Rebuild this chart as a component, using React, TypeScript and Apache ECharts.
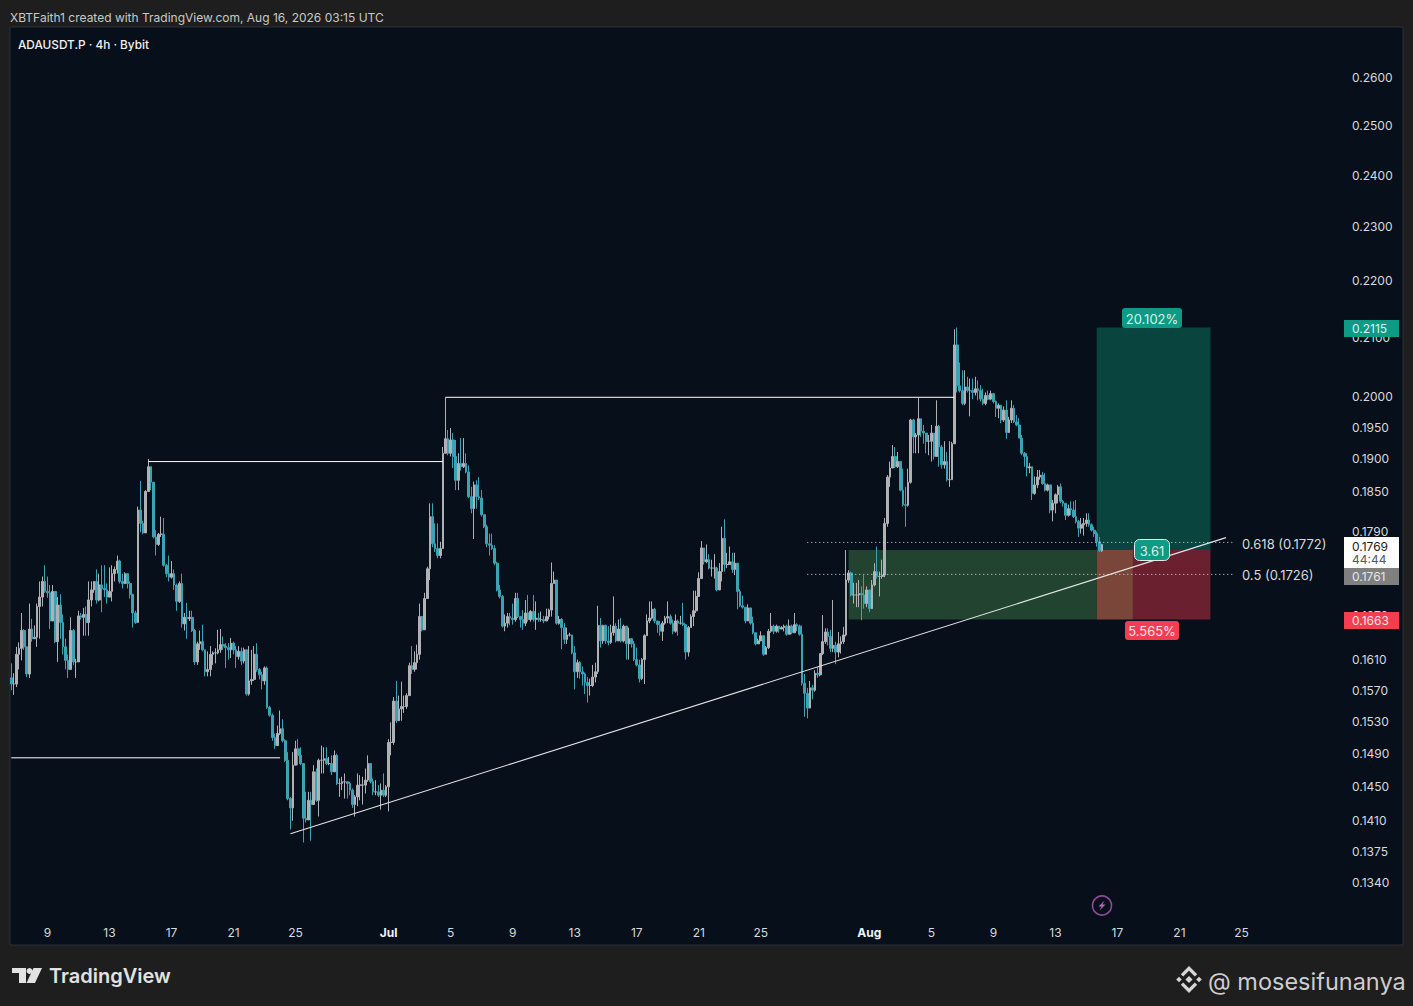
import React, { useEffect, useRef } from "react";
import * as echarts from "echarts";

const firstOpen = 1585;
const closes = [
  1577,1577,1616,1624,1648,1626,1590,1650,1637,1639,
  1681,1694,1716,1702,1700,1661,1702,1633,1683,1659,
  1626,1608,1596,1648,1606,1606,1668,1666,1670,1659,
  1690,1704,1716,1690,1711,1706,1704,1694,1702,1727,
  1733,1745,1716,1713,1727,1713,1698,1672,1659,1820,
  1800,1786,1848,1886,1862,1780,1769,1784,1784,1739,
  1727,1722,1727,1711,1688,1713,1657,1666,1664,1666,
  1648,1606,1630,1633,1622,1593,1596,1616,1618,1618,
  1622,1629,1627,1625,1622,1631,1622,1613,1620,1607,
  1622,1564,1581,1583,1616,1596,1589,1581,1598,1547,
  1537,1509,1499,1514,1520,1505,1481,1435,1424,1475,
  1495,1487,1477,1412,1410,1433,1428,1467,1433,1481,
  1481,1483,1477,1477,1467,1487,1453,1453,1455,1455,
  1453,1445,1428,1437,1451,1451,1451,1457,1477,1455,
  1443,1443,1439,1445,1439,1449,1503,1503,1555,1530,
  1545,1548,1548,1562,1601,1596,1605,1616,1667,1649,
  1692,1734,1810,1770,1763,1753,1763,1907,1930,1907,
  1928,1902,1865,1891,1886,1891,1878,1840,1822,1858,
  1840,1838,1813,1795,1770,1768,1763,1742,1704,1695,
  1654,1658,1667,1665,1663,1692,1667,1663,1658,1672,
  1663,1674,1663,1665,1663,1663,1661,1667,1676,1713,
  1718,1658,1663,1652,1636,1642,1642,1618,1593,1605,
  1593,1590,1579,1575,1575,1586,1593,1655,1634,1655,
  1634,1632,1645,1654,1634,1650,1634,1654,1630,1637,
  1630,1609,1602,1584,1609,1641,1661,1665,1677,1661,
  1656,1647,1658,1665,1667,1658,1647,1661,1658,1658,
  1656,1619,1652,1667,1675,1695,1720,1764,1744,1747,
  1735,1735,1735,1704,1730,1778,1740,1740,1744,1733,
  1742,1702,1682,1680,1661,1679,1658,1645,1630,1634,
  1641,1616,1625,1647,1654,1647,1654,1650,1652,1654,
  1643,1654,1645,1656,1654,1643,1578,1565,1546,1572,
  1569,1591,1589,1617,1633,1646,1640,1624,1628,1619,
  1630,1633,1642,1718,1728,1697,1697,1697,1699,1697,
  1685,1704,1678,1711,1730,1723,1723,1725,1800,1870,
  1884,1902,1886,1894,1850,1828,1827,1862,1960,1933,
  1936,1962,1942,1939,1926,1926,1939,1902,1950,1917,
  1889,1894,1866,1866,1922,2085,2016,2008,1987,2014,
  2008,2008,2005,2011,2008,1994,1987,2000,1994,2003,
  1990,1979,1984,1960,1976,1940,1960,1979,1957,1952,
  1931,1907,1902,1884,1886,1845,1858,1870,1873,1860,
  1850,1858,1820,1830,1843,1855,1833,1830,1812,1822,
  1820,1810,1803,1793,1798,1800,1805,1798,1790,1785,
  1773,1760,1769,
];
const highs = [
  1604,1591,1626,1632,1672,1650,1624,1685,1664,1655,
  1685,1716,1723,1739,1723,1711,1711,1702,1694,1698,
  1670,1637,1616,1666,1650,1610,1675,1672,1679,1681,
  1716,1716,1716,1733,1727,1739,1739,1713,1736,1739,
  1737,1753,1747,1727,1729,1727,1716,1698,1675,1825,
  1864,1804,1850,1898,1886,1860,1790,1786,1810,1808,
  1741,1753,1745,1733,1713,1716,1727,1672,1686,1675,
  1675,1650,1633,1648,1656,1622,1620,1627,1620,1624,
  1649,1650,1640,1631,1631,1638,1633,1627,1627,1625,
  1625,1620,1627,1622,1627,1631,1598,1593,1600,1600,
  1549,1539,1514,1524,1543,1532,1507,1491,1437,1491,
  1505,1507,1497,1477,1443,1443,1443,1475,1471,1483,
  1499,1497,1497,1485,1487,1493,1489,1459,1461,1465,
  1455,1455,1447,1439,1465,1463,1461,1471,1487,1477,
  1459,1457,1451,1453,1465,1451,1507,1528,1560,1581,
  1562,1580,1562,1565,1605,1627,1620,1629,1685,1668,
  1700,1737,1830,1830,1800,1800,1773,1917,1997,1944,
  1947,1939,1928,1907,1931,1931,1907,1888,1855,1863,
  1865,1870,1850,1813,1798,1785,1785,1768,1744,1711,
  1697,1670,1672,1672,1685,1700,1700,1668,1676,1690,
  1697,1676,1697,1688,1672,1674,1668,1678,1678,1743,
  1730,1716,1668,1665,1658,1652,1645,1642,1627,1609,
  1607,1600,1592,1586,1584,1602,1605,1682,1665,1656,
  1656,1654,1656,1695,1658,1663,1665,1656,1654,1652,
  1637,1634,1625,1609,1611,1643,1670,1688,1688,1679,
  1661,1661,1661,1668,1688,1670,1663,1670,1663,1668,
  1686,1656,1654,1670,1703,1703,1729,1774,1764,1769,
  1755,1747,1755,1737,1742,1795,1806,1757,1766,1757,
  1757,1742,1705,1696,1680,1684,1679,1667,1645,1637,
  1647,1641,1627,1650,1672,1656,1656,1654,1654,1656,
  1656,1663,1656,1672,1658,1656,1655,1590,1572,1581,
  1576,1595,1599,1617,1669,1651,1651,1649,1690,1633,
  1646,1640,1653,1761,1732,1730,1714,1714,1718,1709,
  1725,1709,1704,1718,1742,1766,1730,1747,1808,1873,
  1894,1920,1917,1909,1894,1883,1855,1883,1962,1962,
  1939,1996,1962,1952,1936,1936,1952,1939,1992,1952,
  1920,1926,1909,1926,1925,2112,2115,2055,2042,2042,
  2031,2028,2028,2031,2025,2017,2011,2005,2008,2008,
  2003,1992,1987,1984,1982,1992,1965,1992,1984,1968,
  1963,1936,1909,1907,1892,1886,1871,1881,1881,1878,
  1876,1860,1858,1835,1845,1858,1860,1835,1830,1828,
  1833,1833,1835,1805,1808,1808,1815,1815,1800,1795,
  1788,1780,1770,
];
const lows = [
  1569,1563,1573,1596,1608,1622,1586,1585,1633,1637,
  1626,1637,1681,1700,1693,1650,1663,1631,1606,1637,
  1616,1596,1585,1596,1602,1585,1606,1663,1641,1641,
  1641,1681,1700,1685,1688,1673,1694,1685,1694,1688,
  1716,1727,1713,1706,1716,1706,1692,1652,1657,1659,
  1787,1784,1790,1847,1850,1778,1753,1767,1780,1737,
  1722,1716,1720,1704,1675,1686,1652,1648,1637,1661,
  1646,1602,1602,1622,1620,1587,1587,1587,1602,1604,
  1616,1618,1622,1598,1609,1611,1616,1598,1609,1602,
  1604,1562,1562,1576,1581,1593,1583,1570,1576,1545,
  1535,1505,1495,1499,1512,1503,1479,1433,1399,1409,
  1475,1475,1475,1384,1407,1410,1386,1428,1431,1414,
  1465,1465,1475,1475,1463,1467,1451,1437,1445,1435,
  1435,1439,1424,1414,1426,1433,1428,1441,1455,1453,
  1439,1439,1437,1422,1437,1437,1420,1487,1500,1527,
  1530,1530,1540,1545,1562,1590,1593,1596,1609,1647,
  1649,1692,1718,1765,1758,1749,1749,1763,1907,1904,
  1902,1884,1850,1850,1880,1884,1876,1838,1815,1777,
  1822,1835,1810,1793,1765,1753,1761,1739,1702,1692,
  1652,1647,1652,1655,1656,1660,1665,1652,1649,1654,
  1660,1660,1660,1649,1660,1660,1658,1661,1663,1667,
  1713,1656,1656,1623,1630,1630,1640,1616,1570,1585,
  1584,1575,1564,1553,1562,1573,1579,1590,1625,1630,
  1630,1628,1630,1641,1632,1634,1632,1632,1609,1609,
  1625,1607,1600,1579,1582,1577,1641,1658,1663,1658,
  1645,1641,1634,1656,1658,1656,1643,1645,1641,1656,
  1654,1609,1613,1652,1654,1672,1695,1720,1740,1742,
  1733,1723,1720,1702,1704,1716,1730,1735,1740,1728,
  1725,1677,1680,1678,1658,1661,1656,1643,1628,1632,
  1634,1614,1616,1623,1645,1643,1645,1645,1650,1647,
  1641,1643,1643,1645,1647,1641,1575,1535,1533,1546,
  1557,1567,1585,1587,1615,1630,1628,1619,1619,1603,
  1612,1617,1630,1640,1714,1695,1685,1680,1680,1662,
  1678,1680,1673,1692,1709,1720,1695,1720,1722,1795,
  1855,1884,1884,1884,1848,1825,1795,1825,1860,1907,
  1907,1907,1933,1922,1907,1904,1894,1897,1902,1886,
  1883,1883,1863,1855,1866,1922,2005,2005,1984,1984,
  2005,1966,1994,2000,1992,1990,1984,1984,1992,1992,
  1987,1965,1963,1955,1957,1930,1939,1955,1955,1950,
  1933,1904,1886,1871,1876,1835,1843,1853,1866,1858,
  1848,1848,1815,1803,1815,1830,1830,1825,1805,1810,
  1812,1808,1800,1780,1785,1782,1795,1795,1788,1780,
  1766,1758,1758,
];

// Time axis: 4h bars; day offsets are counted from the labelled "9" (June 9).
const barsPerDay = 6;
const barsBeforeFirstTick = 14;
const totalSlots = 539;
const tickDays = [0, 4, 8, 12, 16, 22, 26, 30, 34, 38, 42, 46, 53, 57, 61, 65, 69, 73, 77];
const tickLabels = ["9", "13", "17", "21", "25", "Jul", "5", "9", "13", "17", "21", "25", "Aug", "5", "9", "13", "17", "21", "25"];

const priceTicks = [0.26, 0.25, 0.24, 0.23, 0.22, 0.21, 0.2, 0.195, 0.19, 0.185, 0.179, 0.167, 0.161, 0.157, 0.153, 0.149, 0.145, 0.141, 0.1375, 0.134];

// [first bar, last bar, low price, high price]
const zones = [
  [324, 420, 0.1663, 0.1761],
  [420, 464, 0.1761, 0.2115],
  [420, 434, 0.1663, 0.1761],
  [434, 464, 0.1663, 0.1761],
];
const zoneColors = ["#21432f", "#0a443f", "#7a463a", "#6a202e"];

// Drawn lines: [bar, price] end points
const levelA = [[0, 0.1484], [104, 0.1484]];
const levelB = [[53, 0.1894], [167, 0.1894]];
const levelC = [[168, 0.1997], [365, 0.1997]];
const trendLine = [[108, 0.1394], [470, 0.1779]];
const fib618 = [[308, 0.1772], [473, 0.1772]];
const fib50 = [[308, 0.1726], [473, 0.1726]];

const opens = closes.map((_, i) => (i === 0 ? firstOpen : closes[i - 1]));
const candles = closes.map((c, i) => [opens[i] / 1e4, c / 1e4, lows[i] / 1e4, highs[i] / 1e4]);
const categories = Array.from({ length: totalSlots }, (_, i) => String(i));
const tickAt = new Map(tickDays.map((d, k) => [barsBeforeFirstTick + d * barsPerDay, tickLabels[k]]));

const FONT = "Inter, 'Noto Sans', sans-serif";
const UP = "#b0b1b5";
const DOWN = "#3ba3b4";
const GREEN = "#0e9a84";
const RED = "#f23e50";

const txt = (text: string, x: number, y: number, fill: string, font: string, align = "left") => ({
  type: "text",
  x,
  y,
  z: 100,
  silent: true,
  style: { text, fill, font: `${font} ${FONT}`, align, verticalAlign: "middle", textAlign: align, textVerticalAlign: "middle" },
});
const box = (x: number, y: number, width: number, height: number, fill: string, r = 0, stroke?: string) => ({
  type: "rect",
  z: 99,
  silent: true,
  shape: { x, y, width, height, r },
  style: stroke ? { fill, stroke, lineWidth: 1 } : { fill },
});
const poly = (points: number[][], fill: string) => ({
  type: "polygon",
  z: 99,
  silent: true,
  shape: { points },
  style: { fill },
});
const diamond = (cx: number, cy: number, r: number, fill: string) =>
  poly([[cx, cy - r], [cx + r, cy], [cx, cy + r], [cx - r, cy]], fill);

const lineSeries = (data: number[][], type: any = "solid", color = "#ffffff", width = 1) => ({
  type: "line",
  data,
  symbol: "none",
  silent: true,
  z: 5,
  clip: false,
  animation: false,
  lineStyle: { color, width, type },
});

export default function App() {
  const ref = useRef<HTMLDivElement>(null);
  useEffect(() => {
    const chart = echarts.init(ref.current!, null, { renderer: "svg" });
    const logoC = "#e2e2e2";
    const bn = "#d6d6d6";
    const bx = 1189;
    const by = 979.5;
    chart.setOption({
      animation: false,
      backgroundColor: "#1e1e1e",
      grid: {
        left: 10,
        right: 10,
        top: 27,
        bottom: 61,
        show: true,
        backgroundColor: "#070f1b",
        borderColor: "#2d3036",
        borderWidth: 1,
      },
      xAxis: {
        type: "category",
        data: categories,
        boundaryGap: true,
        axisLine: { show: false },
        axisTick: { show: false },
        splitLine: { show: false },
        axisLabel: {
          show: true,
          inside: true,
          margin: 7,
          interval: (i: number) => tickAt.has(i),
          hideOverlap: false,
          color: "#d8d9dc",
          fontFamily: FONT,
          fontSize: 12,
          formatter: (_v: string, i: number) => {
            const t = tickAt.get(i) ?? "";
            return t === "Jul" || t === "Aug" ? `{b|${t}}` : t;
          },
          rich: { b: { fontWeight: 700, color: "#f2f2f2", fontFamily: FONT, fontSize: 12 } },
        },
      },
      yAxis: {
        type: "log",
        logBase: 10,
        min: 0.1272,
        max: 0.2709,
        position: "right",
        axisLine: { show: false },
        axisTick: { show: false },
        axisLabel: { show: false },
        splitLine: { show: false },
      },
      series: [
        {
          type: "custom",
          z: 1,
          silent: true,
          clip: false,
          data: zones.map((z, i) => [...z, i]),
          encode: { x: [0, 1], y: [2, 3] },
          renderItem: (_p: any, api: any) => {
            const a = api.coord([api.value(0), api.value(3)]);
            const b = api.coord([api.value(1), api.value(2)]);
            return {
              type: "rect",
              shape: { x: a[0], y: a[1], width: b[0] - a[0], height: b[1] - a[1] },
              style: { fill: zoneColors[api.value(4)] },
            };
          },
        },
        {
          type: "candlestick",
          z: 3,
          silent: true,
          barWidth: 2.2,
          data: candles,
          itemStyle: {
            color: UP,
            color0: DOWN,
            borderColor: UP,
            borderColor0: DOWN,
            borderColorDoji: UP,
            borderWidth: 1,
          },
        },
        lineSeries(levelA),
        lineSeries(levelB),
        lineSeries(levelC),
        lineSeries(trendLine, "solid", "#e4e6e6", 1.1),
        lineSeries(fib618, [1, 3], "#e0e0e0"),
        lineSeries(fib50, [1, 3], "#e0e0e0"),
        {
          type: "custom",
          z: 6,
          silent: true,
          clip: false,
          data: priceTicks.map((p) => [0, p]),
          renderItem: (params: any, api: any) => {
            const y = api.coord([0, api.value(1)])[1];
            return {
              type: "text",
              x: params.coordSys.x + params.coordSys.width - 51,
              y: y + 1,
              style: {
                text: api.value(1).toFixed(4),
                fill: "#d8d9dc",
                font: `12px ${FONT}`,
                align: "left",
                verticalAlign: "middle",
              },
            };
          },
        },
      ],
      graphic: [
        txt("XBTFaith1 created with TradingView.com, Aug 16, 2026 03:15 UTC", 10, 17.5, "#c9c9c9", "12px"),
        txt("ADAUSDT.P · 4h · Bybit", 18, 44.5, "#f2f2f2", "500 11.8px"),
        // position tool badges
        box(1122, 308, 60, 20, GREEN, 3),
        txt("20.102%", 1152, 318.5, "#d8f3ee", "13px", "center"),
        box(1125, 621, 54, 19, RED, 3),
        txt("5.565%", 1152, 630.5, "#fde3e6", "13px", "center"),
        box(1134.5, 539.5, 35, 21, GREEN, 5, "#e8e8e8"),
        txt("3.61", 1152, 550.5, "#d8f3ee", "13px", "center"),
        txt("0.618 (0.1772)", 1242, 544, "#d8d9dc", "13px"),
        txt("0.5 (0.1726)", 1242, 575, "#d8d9dc", "13px"),
        // price scale tags
        box(1344, 320, 55, 17, GREEN),
        txt("0.2115", 1352, 328.5, "#d8f3ee", "12px"),
        box(1344, 537, 55, 31, "#ffffff"),
        txt("0.1769", 1352, 546, "#1c1c1c", "12px"),
        txt("44:44", 1352, 559.5, "#55585e", "12px"),
        box(1344, 568, 55, 17, "#808080"),
        txt("0.1761", 1352, 576.5, "#e6e6e6", "12px"),
        box(1344, 612, 55, 17, RED),
        txt("0.1663", 1352, 620.5, "#fde3e6", "12px"),
        // bolt marker
        {
          type: "circle",
          z: 99,
          silent: true,
          shape: { cx: 1102, cy: 905.5, r: 9.5 },
          style: { fill: "none", stroke: "#8d4a97", lineWidth: 1.6 },
        },
        poly([[1104.5, 900.5], [1098.5, 906.5], [1101.5, 906.5], [1099.5, 910.5], [1105.5, 904.5], [1102.5, 904.5]], "#b066b8"),
        // TradingView logo
        poly([[12, 968], [26, 968], [26, 983], [19, 983], [19, 973], [12, 973]], logoC),
        { type: "circle", z: 99, silent: true, shape: { cx: 29.5, cy: 971, r: 3 }, style: { fill: logoC } },
        poly([[33.5, 968], [42, 968], [35, 983], [26.5, 983]], logoC),
        txt("TradingView", 49, 975.5, logoC, "600 20px"),
        // Binance style mark and handle
        diamond(bx, by, 3.6, bn),
        diamond(bx - 10, by, 2.8, bn),
        diamond(bx + 10, by, 2.8, bn),
        poly([[bx, by - 13.5], [bx + 8.2, by - 5.3], [bx + 5.8, by - 3], [bx, by - 8.7], [bx - 5.8, by - 3], [bx - 8.2, by - 5.3]], bn),
        poly([[bx, by + 13.5], [bx + 8.2, by + 5.3], [bx + 5.8, by + 3], [bx, by + 8.7], [bx - 5.8, by + 3], [bx - 8.2, by + 5.3]], bn),
        txt("@ mosesifunanya", 1208, 981, "#cdcdcd", "23.5px"),
      ],
    });
    return () => chart.dispose();
  }, []);
  return <div ref={ref} style={{ position: "fixed", left: 0, top: 0, width: 1413, height: 1006 }} />;
}
